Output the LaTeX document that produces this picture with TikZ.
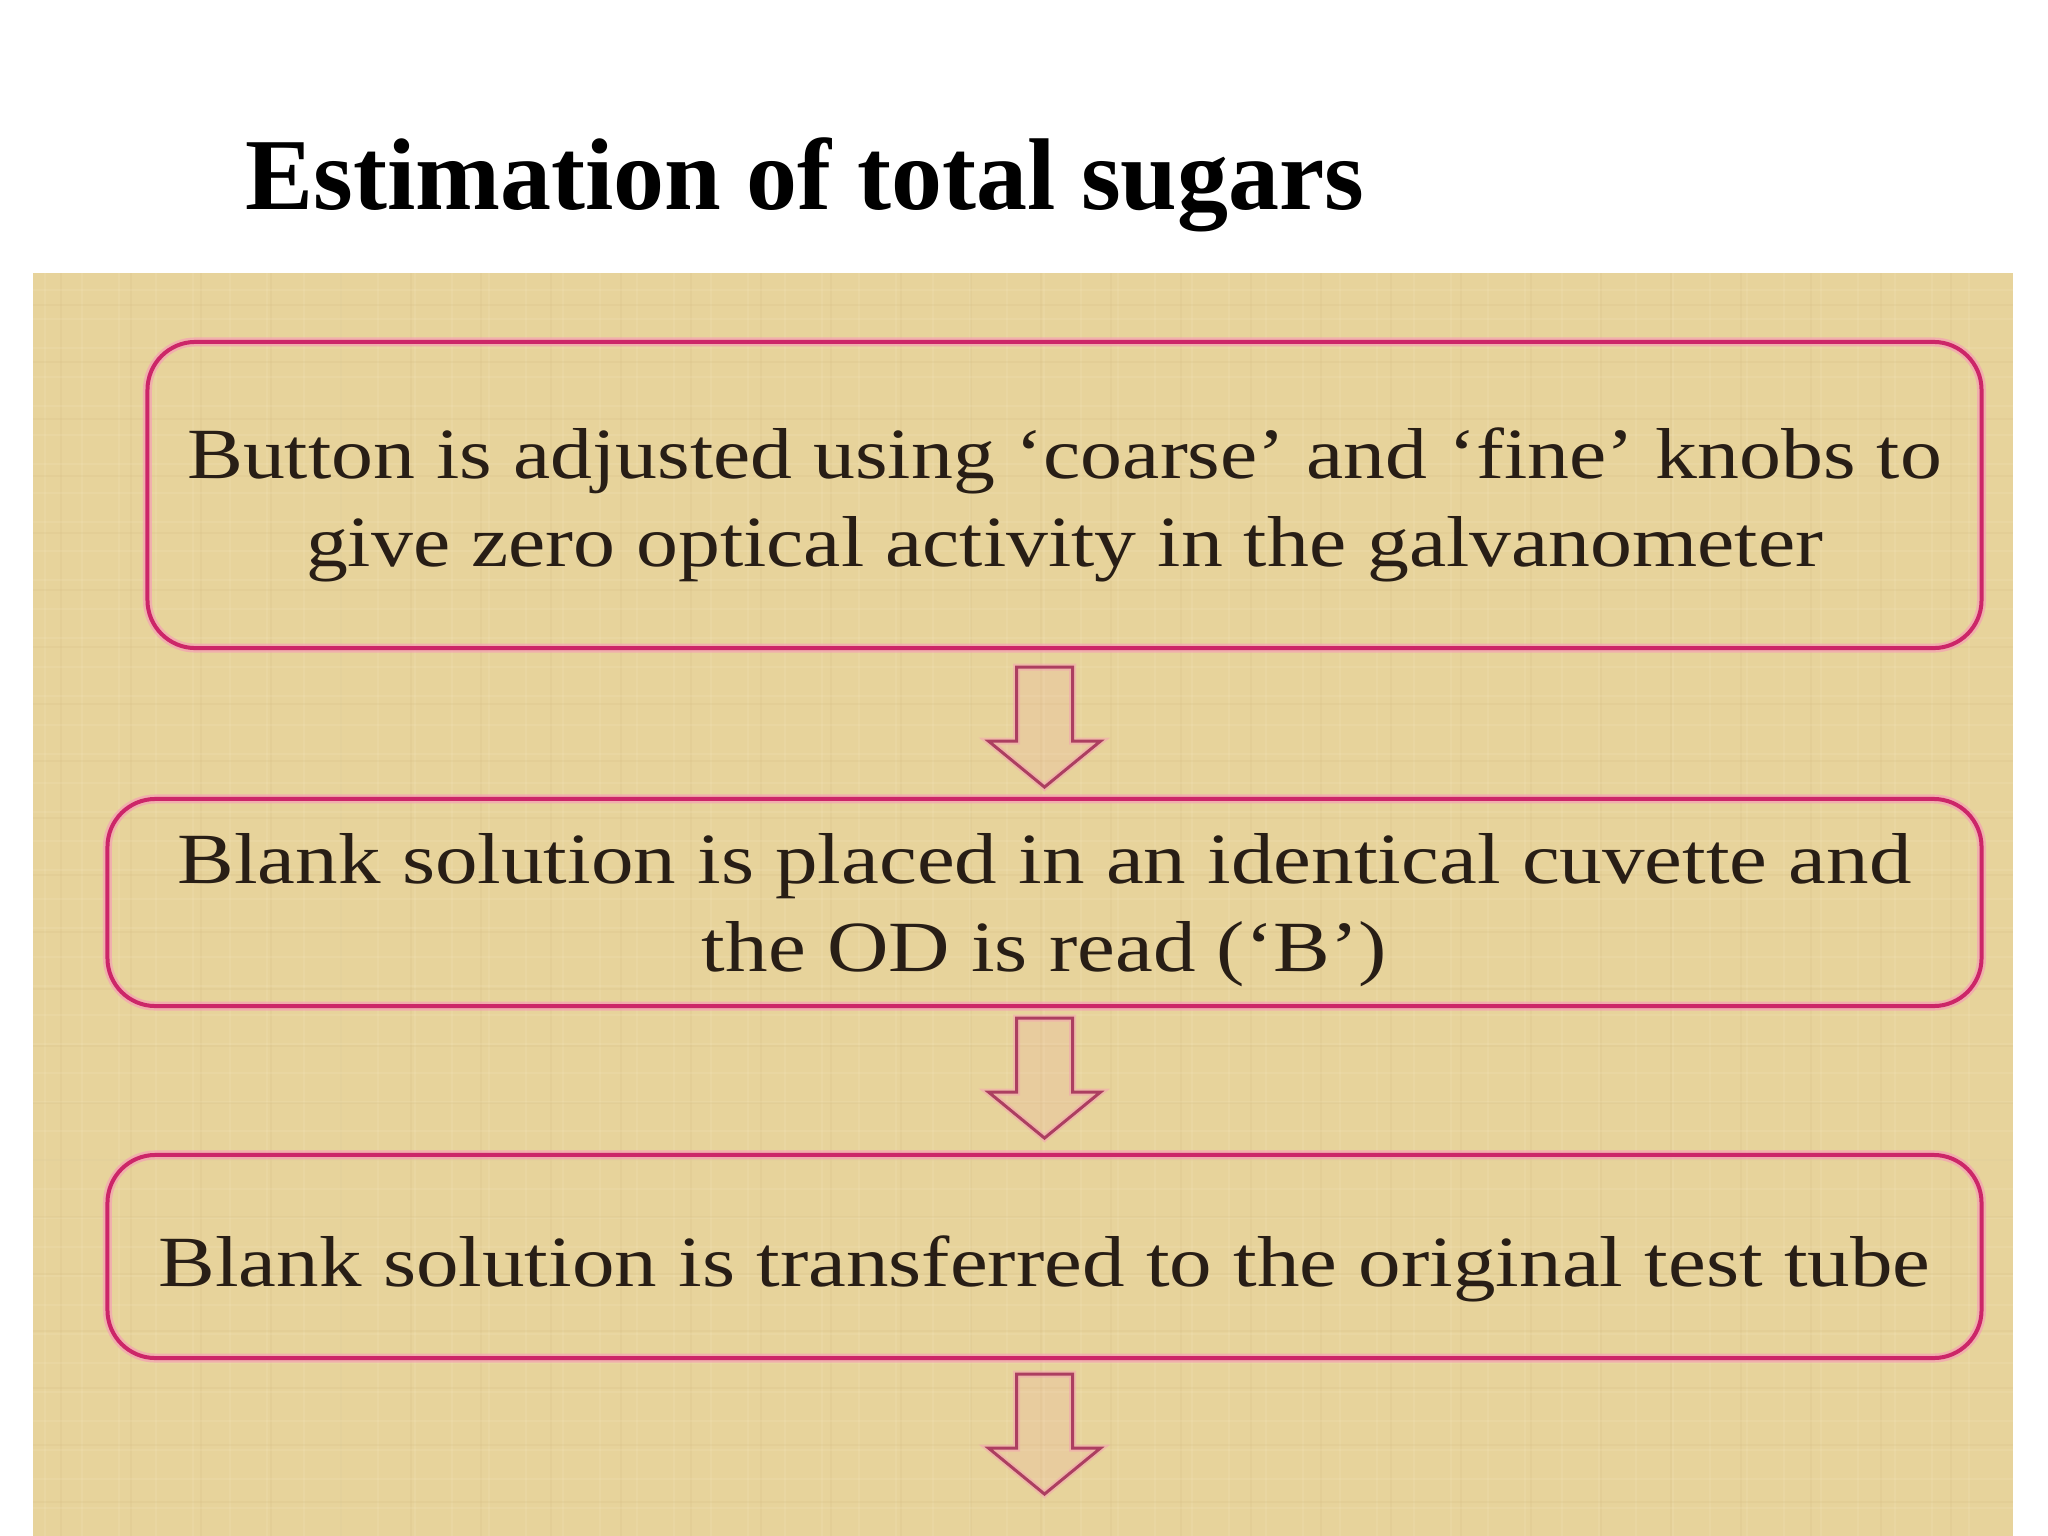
\documentclass[tikz,border=0pt]{standalone}
\usepackage{fontspec}
\setmainfont{Liberation Serif}
\newfontfamily\stepfont[FakeStretch=1.18]{Liberation Serif}
\usetikzlibrary{calc}
\usetikzlibrary{positioning}
\definecolor{papertan}{RGB}{231,211,155}
\definecolor{paperlight}{RGB}{243,228,184}
\definecolor{paperdark}{RGB}{214,192,134}
\definecolor{boxpink}{RGB}{204,38,104}
\definecolor{glowpink}{RGB}{245,160,180}
\definecolor{arrowpink}{RGB}{172,62,96}
\definecolor{inkbrown}{RGB}{40,30,22}
\tikzset{
  stepbox/.style={draw=boxpink, line width=0.04cm, rounded corners=0.48cm,
    inner sep=0pt,
    preaction={draw=glowpink, line width=0.09cm, opacity=0.7}},
  steptext/.style={align=center, text=inkbrown, inner sep=0pt,
    font=\stepfont\fontsize{20.5}{25}\selectfont},
  hollowarrow/.style={draw=arrowpink, line width=0.03cm, line join=miter,
    fill=glowpink, fill opacity=0.12,
    preaction={draw=glowpink, line width=0.07cm, opacity=0.5}},
  grain/.style={line width=0.02cm, opacity=0.22}
}

\begin{document}
\begin{tikzpicture}[x=0.01cm, y=-0.01cm]
  \useasboundingbox (0,0) rectangle (2048,1536);
  \fill[white] (0,0) rectangle (2048,1536);

  % paper background
  \fill[papertan] (33,273) rectangle (2013,1536);
  \foreach \x in {45,82,...,2000} \draw[grain, paperlight] (\x,273) -- (\x,1536);
  \foreach \x in {61,131,...,2000} \draw[grain, paperdark] (\x,273) -- (\x,1536);
  \foreach \y in {290,319,...,1530} \draw[grain, paperlight] (33,\y) -- (2013,\y);
  \foreach \y in {305,362,...,1530} \draw[grain, paperdark] (33,\y) -- (2013,\y);

  \node [anchor=base west, font=\bfseries\fontsize{29}{34}\selectfont] (title) at (233,209) {Estimation of total sugars};

  \node [stepbox, minimum width=18.33cm, minimum height=3.06cm] (b1) at (1064.5,495) {};
  \node [stepbox, minimum width=18.73cm, minimum height=2.07cm] (b2) at (1044.5,902.5) {};
  \node [stepbox, minimum width=18.73cm, minimum height=2.03cm] (b3) at (1044.5,1256.5) {};

  \node [steptext, xscale=0.985] (t1) at ($(b1.center)+(0,10)$)
    {Button is adjusted using ‘coarse’ and ‘fine’ knobs to\\give zero optical activity in the galvanometer};
  \node [steptext] (t2) at ($(b2.center)+(0,8)$)
    {Blank solution is placed in an identical cuvette and\\the OD is read (‘B’)};
  \node [steptext] (t3) at ($(b3.center)+(0,12)$)
    {Blank solution is transferred to the original test tube};

  % hollow arrows below each step
  \foreach \from/\gap in {b1/17, b2/10, b3/14}
    \draw[hollowarrow] ($(b2.north |- \from.south)+(0,\gap)$) ++(-28,0) -- ++(0,74) -- ++(-28,0)
      -- ++(56,46) -- ++(56,-46) -- ++(-28,0) -- ++(0,-74) -- cycle;
\end{tikzpicture}
\end{document}
